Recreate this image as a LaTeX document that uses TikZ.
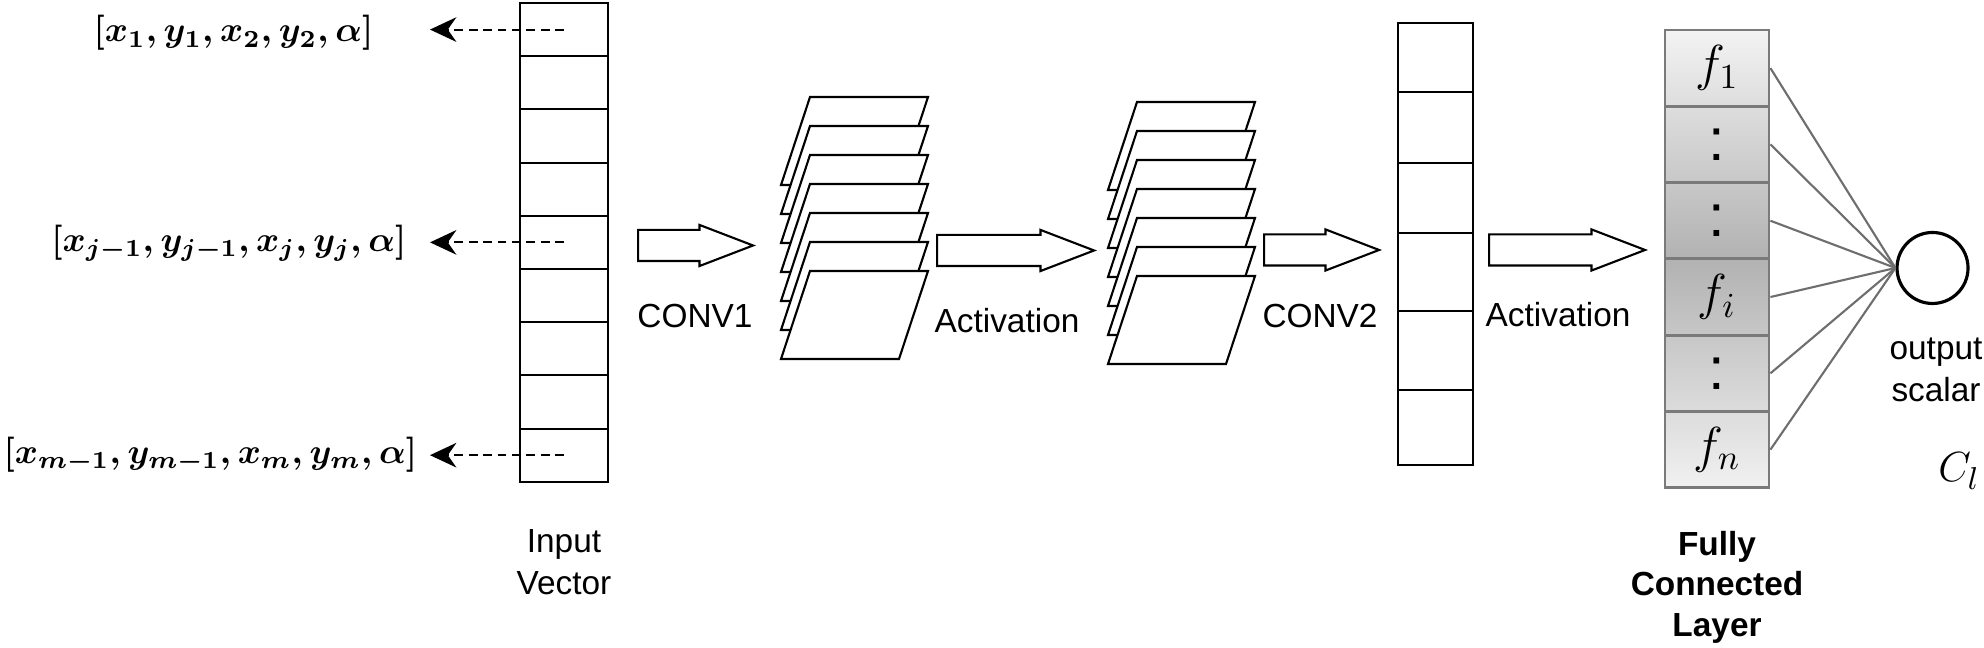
\documentclass[tikz,border=0pt]{standalone}
\usepackage{amsmath}
\usepackage{amssymb}
\usepackage{fontspec}
\setmainfont{Liberation Sans}
\usetikzlibrary{arrows.meta,shapes.arrows}

\definecolor{linegray}{HTML}{6E6E6E}
\definecolor{bordergray}{HTML}{7A7A7A}
\definecolor{fctop}{HTML}{F3F3F3}
\definecolor{fcmid}{HTML}{B2B2B2}
\definecolor{fcbottom}{HTML}{F1F1F1}

\begin{document}
\begin{tikzpicture}[
  cell/.style={draw, line width=0.6pt, minimum width=0.88cm, minimum height=0.532cm, inner sep=0pt},
  fccell/.style={draw=bordergray, line width=0.8pt, minimum width=1.04cm, minimum height=0.763cm, inner sep=0pt, font=\Large},
  blockarrow/.style={single arrow, draw, line width=0.6pt, fill=white, inner sep=0pt, text height=0.29cm, text depth=0pt, single arrow head extend=0.05cm, single arrow tip angle=42, minimum height=#1, anchor=tail},
  txt/.style={font=\fontsize{9.5}{12}\selectfont, align=center},
  vec/.style={font=\boldmath, inner sep=0pt},
  sheet/.style={line width=0.6pt, fill=white},
  dasharrow/.style={line width=0.6pt, dash pattern=on 2.5pt off 1.6pt, -{Stealth[length=7.5pt,width=7pt]}},
  fcline/.style={draw=linegray, line width=0.6pt}
]
\useasboundingbox (0,0) rectangle (19.84,6.48);

% input vector
\node[cell] (in0) at (5.64,6.184) {};
\node[cell] (in1) at (5.64,5.652) {};
\node[cell] (in2) at (5.64,5.120) {};
\node[cell] (in3) at (5.64,4.588) {};
\node[cell] (in4) at (5.64,4.056) {};
\node[cell] (in5) at (5.64,3.524) {};
\node[cell] (in6) at (5.64,2.992) {};
\node[cell] (in7) at (5.64,2.460) {};
\node[cell] (in8) at (5.64,1.928) {};
\node[txt] (inlabel) at (5.64,0.86) {Input\\Vector};

% segments
\node[vec, anchor=east] (seg1) at (3.74,6.15) {$[x_1,y_1,x_2,y_2,\alpha]$};
\node[vec, anchor=east] (segj) at (4.07,4.05) {$[x_{j-1},y_{j-1},x_j,y_j,\alpha]$};
\node[vec, anchor=west] (segm) at (0.03,1.93) {$[x_{m-1},y_{m-1},x_m,y_m,\alpha]$};
\coordinate (tip1) at (4.30,6.184);
\coordinate (tipj) at (4.30,4.056);
\coordinate (tipm) at (4.30,1.928);
\draw[dasharrow] (in0.center) -- (tip1);
\draw[dasharrow] (in4.center) -- (tipj);
\draw[dasharrow] (in8.center) -- (tipm);

% conv1
\node[blockarrow=1.15cm] (conv1) at (6.37,4.025) {};
\node[txt] (conv1label) at (6.95,3.32) {CONV1};

\begin{scope}[xshift=7.81cm, yshift=2.89cm]
\filldraw[sheet] (0,1.74) -- ++(1.18,0) -- ++(0.29,0.88) -- ++(-1.18,0) -- cycle;
\filldraw[sheet] (0,1.45) -- ++(1.18,0) -- ++(0.29,0.88) -- ++(-1.18,0) -- cycle;
\filldraw[sheet] (0,1.16) -- ++(1.18,0) -- ++(0.29,0.88) -- ++(-1.18,0) -- cycle;
\filldraw[sheet] (0,0.87) -- ++(1.18,0) -- ++(0.29,0.88) -- ++(-1.18,0) -- cycle;
\filldraw[sheet] (0,0.58) -- ++(1.18,0) -- ++(0.29,0.88) -- ++(-1.18,0) -- cycle;
\filldraw[sheet] (0,0.29) -- ++(1.18,0) -- ++(0.29,0.88) -- ++(-1.18,0) -- cycle;
\filldraw[sheet] (0,0) -- ++(1.18,0) -- ++(0.29,0.88) -- ++(-1.18,0) -- cycle;
\end{scope}

% activation
\node[blockarrow=1.57cm] (act1) at (9.36,3.975) {};
\node[txt] (act1label) at (10.07,3.27) {Activation};

\begin{scope}[xshift=11.08cm, yshift=2.84cm]
\filldraw[sheet] (0,1.74) -- ++(1.18,0) -- ++(0.29,0.88) -- ++(-1.18,0) -- cycle;
\filldraw[sheet] (0,1.45) -- ++(1.18,0) -- ++(0.29,0.88) -- ++(-1.18,0) -- cycle;
\filldraw[sheet] (0,1.16) -- ++(1.18,0) -- ++(0.29,0.88) -- ++(-1.18,0) -- cycle;
\filldraw[sheet] (0,0.87) -- ++(1.18,0) -- ++(0.29,0.88) -- ++(-1.18,0) -- cycle;
\filldraw[sheet] (0,0.58) -- ++(1.18,0) -- ++(0.29,0.88) -- ++(-1.18,0) -- cycle;
\filldraw[sheet] (0,0.29) -- ++(1.18,0) -- ++(0.29,0.88) -- ++(-1.18,0) -- cycle;
\filldraw[sheet] (0,0) -- ++(1.18,0) -- ++(0.29,0.88) -- ++(-1.18,0) -- cycle;
\end{scope}

% conv2
\node[blockarrow=1.15cm] (conv2) at (12.63,3.98) {};
\node[txt] (conv2label) at (13.20,3.32) {CONV2};

\node[draw, line width=0.6pt, minimum width=0.75cm, minimum height=4.42cm, inner sep=0pt] (flat) at (14.355,4.04) {};
\draw[line width=0.6pt] (13.98,5.56) -- (14.73,5.56);
\draw[line width=0.6pt] (13.98,4.85) -- (14.73,4.85);
\draw[line width=0.6pt] (13.98,4.15) -- (14.73,4.15);
\draw[line width=0.6pt] (13.98,3.37) -- (14.73,3.37);
\draw[line width=0.6pt] (13.98,2.58) -- (14.73,2.58);

% activation
\node[blockarrow=1.56cm] (act2) at (14.88,3.98) {};
\node[txt] (act2label) at (15.58,3.33) {Activation};

% fully connected
\shade[top color=fctop, bottom color=fcbottom, middle color=fcmid] (16.65,1.60) rectangle (17.69,6.18);
\node[fccell] (fc1) at (17.17,5.7985) {$f_1$};
\node[fccell] (fc2) at (17.17,5.0355) {\fontsize{17}{17}\selectfont :};
\node[fccell] (fc3) at (17.17,4.2725) {\fontsize{17}{17}\selectfont :};
\node[fccell] (fc4) at (17.17,3.5095) {$f_i$};
\node[fccell] (fc5) at (17.17,2.7465) {\fontsize{17}{17}\selectfont :};
\node[fccell] (fc6) at (17.17,1.9835) {$f_n$};
\node[txt, font=\fontsize{9.5}{11.5}\selectfont\bfseries] (fclabel) at (17.17,0.61) {Fully\\Connected\\Layer};

% output
\node[draw, circle, line width=0.9pt, minimum size=0.71cm, inner sep=0pt] (out) at (19.325,3.80) {};
\draw[fcline] (fc1.east) -- (out.west);
\draw[fcline] (fc2.east) -- (out.west);
\draw[fcline] (fc3.east) -- (out.west);
\draw[fcline] (fc4.east) -- (out.west);
\draw[fcline] (fc5.east) -- (out.west);
\draw[fcline] (fc6.east) -- (out.west);
\node[txt] (outlabel) at (19.36,2.785) {output\\scalar};
\node[font=\fontsize{13}{13}\selectfont] (cl) at (19.59,1.77) {$C_l$};

\end{tikzpicture}
\end{document}
